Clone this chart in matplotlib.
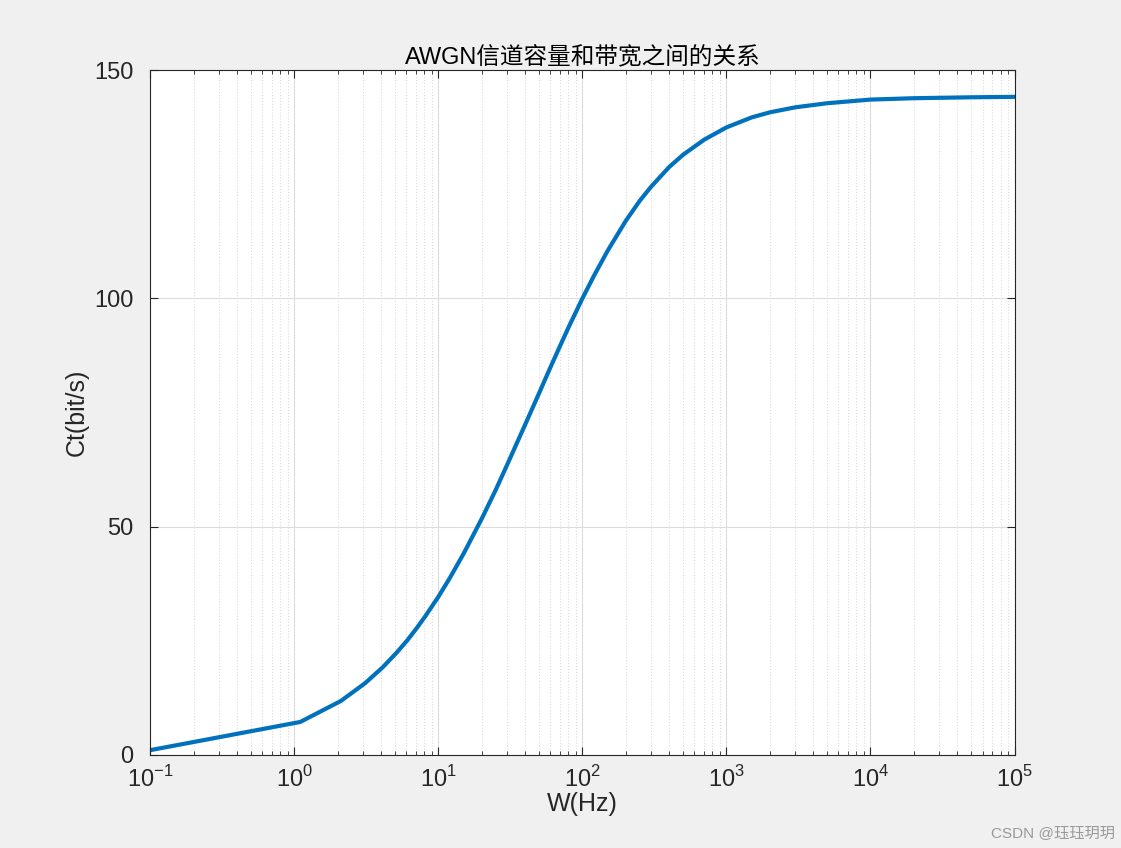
import matplotlib
matplotlib.use("Agg")
import matplotlib.pyplot as plt

W = [0.1, 1.1, 2.1, 3.1, 4.1, 5.1, 6.1, 7.1, 8.1, 10, 12, 15, 20, 25, 30, 40, 50, 60, 70, 80, 100, 120, 150, 200, 250, 300, 400, 500, 700, 1000, 1500, 2000, 3000, 5000, 10000, 20000, 50000, 100000]
Ct = [1.0, 7.18, 11.76, 15.67, 19.13, 22.26, 25.1, 27.8, 30.3, 34.6, 38.7, 44.1, 51.7, 58.0, 63.5, 72.3, 79.2, 84.9, 89.6, 93.6, 100.0, 104.9, 110.5, 117.0, 121.4, 124.5, 128.8, 131.5, 134.8, 137.5, 139.7, 140.8, 141.9, 142.8, 143.6, 143.9, 144.1, 144.2]
xticks = [0.1, 1, 10, 100, 1000, 10000, 100000]
xticklabels = ['10$^{-1}$', '10$^{0}$', '10$^{1}$', '10$^{2}$', '10$^{3}$', '10$^{4}$', '10$^{5}$']
yticks = [0, 50, 100, 150]

plt.rcParams['font.family'] = ['Liberation Sans', 'Noto Sans CJK SC']
plt.rcParams['mathtext.fontset'] = 'custom'
plt.rcParams['mathtext.rm'] = 'Liberation Sans'
plt.rcParams['axes.unicode_minus'] = False
fig = plt.figure(figsize=(11.21, 8.48), dpi=100, facecolor='#f0f0f0')
ax = fig.add_axes([0.134, 0.110, 0.771, 0.807])
ax.plot(W, Ct, color='#0072BD', lw=3)
ax.set_xscale('log')
ax.set_xlim(0.1, 1e5)
ax.set_ylim(0, 150)
ax.set_xticks(xticks)
ax.set_xticklabels(xticklabels)
ax.set_yticks(yticks)
ax.grid(True, which='major', color='#dcdcdc', lw=0.8)
ax.grid(True, which='minor', axis='x', color='#dcdcdc', lw=0.8, ls=':')
ax.tick_params(which='both', direction='in', top=True, right=True, labelsize=17, colors='#262626')
ax.tick_params(which='major', length=6)
ax.tick_params(axis='x', which='major', pad=8)
ax.tick_params(axis='y', which='major', pad=12)
ax.tick_params(which='minor', length=3)
for s in ax.spines.values():
    s.set_color('#262626')
ax.set_xlabel('W(Hz)', fontsize=18, color='#262626', labelpad=0)
ax.set_ylabel('Ct(bit/s)', fontsize=18, color='#262626', labelpad=4)
ax.set_title('AWGN信道容量和带宽之间的关系', fontsize=17, color='black', pad=4,
             family=['Liberation Sans', 'Noto Sans CJK SC'])
fig.text(0.995, 0.01, 'CSDN @珏珏玥玥', ha='right', va='bottom', fontsize=11, color='#999999')
fig.savefig('out.png', dpi=100, facecolor=fig.get_facecolor())
